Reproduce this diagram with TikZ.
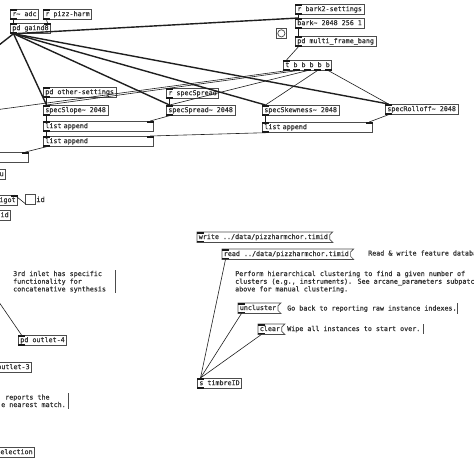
\documentclass[tikz,border=0pt]{standalone}
\usepackage{fontspec}
\newfontfamily\pdmono[FakeBold=0.7]{DejaVu Sans Mono}
\newcommand\pdfnt{\pdmono\fontsize{6.7}{7.7}\selectfont}
\definecolor{boxcol}{gray}{0.3}
\definecolor{wire}{gray}{0.12}
\definecolor{iocol}{gray}{0.1}
\newcommand\pdio[1]{%
  \fill[iocol] (#1.north west) rectangle ([xshift=7pt,yshift=-1.8pt]#1.north west);
  \fill[iocol] (#1.south west) rectangle ([xshift=7pt,yshift=1.8pt]#1.south west);}
\newcommand\pdri[1]{%
  \fill[iocol] (#1.north east) rectangle ([xshift=-7pt,yshift=-1.8pt]#1.north east);}
\newcommand\msgflag[1]{%
  \draw[draw=boxcol, line width=0.7pt] (#1.north west) -- ([xshift=3pt]#1.north east)
    -- ([yshift=-3pt]#1.north east) -- ([yshift=3pt]#1.south east)
    -- ([xshift=3pt]#1.south east) -- (#1.south west) -- cycle;}
\begin{document}
\begin{tikzpicture}[x=1pt,y=-1pt,
  obj/.style={draw=boxcol, line width=0.7pt, anchor=north west, inner xsep=2pt,
    inner ysep=0pt, minimum height=10pt, text height=5.2pt, text depth=1.6pt, font=\pdfnt, text=black!80},
  objw/.style={obj, text width=#1, align=left},
  cutbox/.style={obj, anchor=north east, text width=#1, align=right},
  msg/.style={anchor=north west, inner xsep=1.6pt, inner ysep=0pt, minimum height=10pt,
    text height=5.2pt, text depth=1.6pt, font=\pdfnt, text=black!80},
  sig/.style={draw=wire, line width=1.4pt},
  ctl/.style={draw=wire, line width=0.6pt},
  cmt/.style={anchor=base west, inner sep=0pt, font=\pdfnt, text=black!80},
  bar/.style={draw=black!70, line width=0.7pt}]
\useasboundingbox (0,0) rectangle (474,474);
\clip (0,0) rectangle (474,474);

% ---- object boxes ----
\node[obj] (adc) at (10,9) {r\textasciitilde{} adc};
\node[obj] (pizz) at (43,9) {r pizz-harm};
\node[obj] (gaind8) at (10,23) {pd gaind8};
\node[obj] (barkset) at (295,4) {r bark2-settings};
\node[obj] (bark) at (295,18) {bark\textasciitilde{} 2048 256 1};
\node[obj] (mfb) at (295,36) {pd multi\_frame\_bang};
\node[obj] (trig) at (283,60) {t b b b b b};
\node[obj] (other) at (43,87) {pd other-settings};
\node[obj] (slope) at (43,105) {specSlope\textasciitilde{} 2048};
\node[obj] (rspread) at (166,88) {r specSpread};
\node[obj] (spread) at (166,105) {specSpread\textasciitilde{} 2048};
\node[obj] (skew) at (262,105) {specSkewness\textasciitilde{} 2048};
\node[obj] (rolloff) at (385,104) {specRolloff\textasciitilde{} 2048};
\node[objw=106pt] (la1) at (43,121) {list append};
\node[objw=106pt] (la2) at (43,136) {list append};
\node[objw=106pt] (la3) at (262,122) {list append};
\node[cutbox=56pt] (leftbox) at (29,152) {};
\node[cutbox=30pt] (ubox) at (6,169) {u};
\node[obj, anchor=north east] (spigot) at (18,195) {spigot};
\node[cutbox=24pt] (idbox) at (11,210) {id};
\node[obj] (outlet4) at (18,335) {pd outlet-4};
\node[obj, anchor=north east] (outlet3) at (32,362) {pd outlet-3};
\node[cutbox=40pt] (select) at (35,447) {election};
\node[obj] (timbre) at (197,378) {s timbreID};

% toggle and bang
\node[draw=boxcol, line width=0.7pt, anchor=north west, minimum size=9.5pt, inner sep=0pt] (tgl) at (25,194) {};
\node[anchor=base west, inner sep=0pt, font=\pdmono\fontsize{7.2}{8}\selectfont, text=black!80] (tgllab) at (36,202) {id};
\node[draw=boxcol, line width=0.7pt, anchor=north west, minimum size=10pt, inner sep=0pt] (bng) at (276,28) {};
\draw[boxcol, line width=0.7pt] (bng.center) circle (3.6);

% ---- message boxes ----
\node[msg] (write) at (197,232) {write ../data/pizzharmchor.timid};
\node[msg] (read) at (222,249) {read ../data/pizzharmchor.timid};
\node[msg] (unclus) at (238,303) {uncluster};
\node[msg] (clear) at (258,324) {clear};
\msgflag{write}\msgflag{read}\msgflag{unclus}\msgflag{clear}

% ---- inlets / outlets ----
\pdio{adc}\pdio{pizz}\pdio{gaind8}\pdri{gaind8}\pdio{barkset}\pdio{bark}\pdio{mfb}
\pdio{trig}\pdio{other}\pdio{slope}\pdio{rspread}\pdio{spread}\pdio{skew}\pdio{rolloff}
\pdio{la1}\pdri{la1}\pdio{la2}\pdri{la2}\pdio{la3}\pdri{la3}\pdri{leftbox}
\pdri{spigot}\pdio{outlet4}\pdio{timbre}
\pdio{write}\pdio{read}\pdio{unclus}\pdio{clear}
\foreach \s in {10.25,20.5,30.75}{
  \fill[iocol] ([xshift=\s pt]trig.south west) rectangle ([xshift=\s pt+7pt,yshift=1.8pt]trig.south west);}
\fill[iocol] (trig.south east) rectangle ([xshift=-7pt,yshift=1.8pt]trig.south east);

% ---- free ends of connectors (outside the crop) ----
\coordinate (offA) at (-20,60);
\coordinate (offB) at (-20,112);
\coordinate (offC) at (-10,289);

% ---- signal connections ----
\draw[sig] ([xshift=3.5pt]adc.south west) -- ([xshift=3.5pt]gaind8.north west);
\draw[sig] ([xshift=3.5pt]gaind8.south west) -- ([xshift=3.5pt]bark.north west);
\draw[sig] ([xshift=3.5pt]gaind8.south west) -- ([xshift=3.5pt]slope.north west);
\draw[sig] ([xshift=3.5pt]gaind8.south west) -- ([xshift=3.5pt]spread.north west);
\draw[sig] ([xshift=3.5pt]gaind8.south west) -- ([xshift=3.5pt]skew.north west);
\draw[sig] ([xshift=3.5pt]gaind8.south west) -- ([xshift=3.5pt]rolloff.north west);
\draw[sig] ([xshift=3.5pt]gaind8.south west) -- (offA);

% ---- control connections ----
\draw[ctl] ([xshift=3.5pt]pizz.south west) -- ([xshift=-3.5pt]gaind8.north east);
\draw[ctl] ([xshift=3.5pt]barkset.south west) -- ([xshift=3.5pt]bark.north west);
\draw[ctl] ([xshift=3.5pt]bark.south west) -- ([xshift=3.5pt]mfb.north west);
\draw[ctl] ([xshift=3.5pt]mfb.south west) -- ([xshift=3.5pt]trig.north west);
\draw[ctl] ([xshift=3.5pt]trig.south west) -- (offB);
\draw[ctl] ([xshift=13.75pt]trig.south west) -- ([xshift=3.5pt]slope.north west);
\draw[ctl] ([xshift=24pt]trig.south west) -- ([xshift=3.5pt]spread.north west);
\draw[ctl] ([xshift=34.25pt]trig.south west) -- ([xshift=3.5pt]skew.north west);
\draw[ctl] ([xshift=-3.5pt]trig.south east) -- ([xshift=3.5pt]rolloff.north west);
\draw[ctl] ([xshift=3.5pt]other.south west) -- ([xshift=3.5pt]slope.north west);
\draw[ctl] ([xshift=3.5pt]rspread.south west) -- ([xshift=3.5pt]spread.north west);
\draw[ctl] ([xshift=3.5pt]slope.south west) -- ([xshift=3.5pt]la1.north west);
\draw[ctl] ([xshift=3.5pt]la1.south west) -- ([xshift=3.5pt]la2.north west);
\draw[ctl] ([xshift=3.5pt]spread.south west) -- ([xshift=-3.5pt]la1.north east);
\draw[ctl] ([xshift=3.5pt]skew.south west) -- ([xshift=3.5pt]la3.north west);
\draw[ctl] ([xshift=3.5pt]rolloff.south west) -- ([xshift=-3.5pt]la3.north east);
\draw[ctl] ([xshift=3.5pt]la3.south west) -- ([xshift=-3.5pt]la2.north east);
\draw[ctl] ([xshift=3.5pt]la2.south west) -- ([xshift=-3.5pt]leftbox.north east);
\draw[ctl] ([xshift=1pt]tgl.south west) -- ([xshift=-3.5pt]spigot.north east);
\draw[ctl] (offC) -- ([xshift=3.5pt]outlet4.north west);
\draw[ctl] ([xshift=3.5pt]read.south west) -- ([xshift=3.5pt]timbre.north west);
\draw[ctl] ([xshift=3.5pt]unclus.south west) -- ([xshift=3.5pt]timbre.north west);
\draw[ctl] ([xshift=3.5pt]clear.south west) -- ([xshift=3.5pt]timbre.north west);

% ---- comments ----
\node[cmt] (c1a) at (13,276) {3rd inlet has specific};
\node[cmt] (c1b) at (13,283.7) {functionality for};
\node[cmt] (c1c) at (13,291.4) {concatenative synthesis};
\draw[bar] (115,270) -- (115,293);
\node[cmt] (c2a) at (5,399.5) {reports the};
\node[cmt] (c2b) at (1,407) {e nearest match.};
\draw[bar] (68,393) -- (68,409);
\node[cmt] (c3) at (368,255.5) {Read \& write feature database};
\node[cmt] (c4a) at (235,276) {Perform hierarchical clustering to find a given number of};
\node[cmt] (c4b) at (235,283.7) {clusters (e.g., instruments). See arcane\_parameters subpatch};
\node[cmt] (c4c) at (235,291.4) {above for manual clustering.};
\node[cmt] (c5) at (287,310.5) {Go back to reporting raw instance indexes.};
\draw[bar] (457,303) -- (457,314);
\node[cmt] (c6) at (287,331) {Wipe all instances to start over.};
\draw[bar] (423,324) -- (423,334);
\end{tikzpicture}
\end{document}
